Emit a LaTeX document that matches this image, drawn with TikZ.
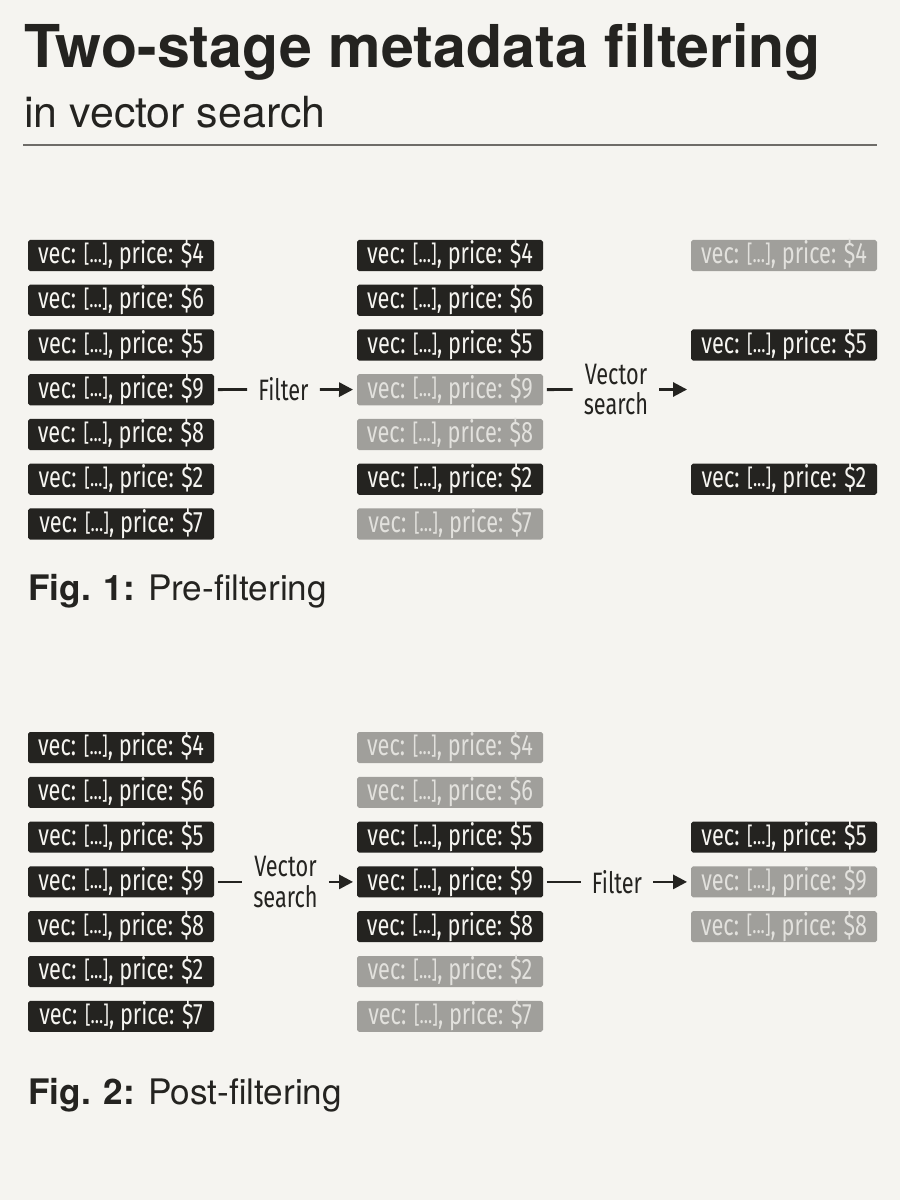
\documentclass[tikz,border=0pt]{standalone}
\usepackage{fontspec}
\setmainfont{TeX Gyre Heros}
\newfontfamily\boxfont[FakeStretch=0.735]{Fira Sans}
\usepackage{xcolor}
\usetikzlibrary{arrows.meta, positioning}
\definecolor{paper}{HTML}{F5F4F0}
\definecolor{ink}{HTML}{242320}
\definecolor{faded}{HTML}{A09F9B}
\definecolor{fadedtext}{HTML}{E2E1DD}
\definecolor{rulegrey}{HTML}{6E6C68}
\newcommand{\elided}{\raisebox{1pt}{\fontsize{17}{17}\selectfont[...]}}
\tikzset{
  box/.style={
    rectangle, rounded corners=1.4pt, anchor=west,
    minimum width=4.65cm, minimum height=0.775cm, inner sep=0pt, outer sep=0pt,
    text height=14pt, text depth=2pt,
    font=\boxfont\fontsize{21}{24}\selectfont
  },
  darkbox/.style={box, fill=ink, text=paper},
  greybox/.style={box, fill=faded, text=fadedtext},
  label/.style={font=\boxfont\fontsize{21}{22}\selectfont, text=ink, align=center,
                inner sep=0pt, outer sep=8pt},
  link/.style={line width=2pt, draw=ink, shorten <=2.8pt},
  arrow/.style={line width=2pt, draw=ink, shorten >=2.8pt, -{Triangle[length=10pt,width=10pt]}},
  caption/.style={anchor=base west, inner sep=0pt, text=ink, font=\fontsize{25}{25}\selectfont},
}

\begin{document}
\begin{tikzpicture}[x=0.025cm, y=-0.025cm]
  \fill[paper] (0,0) rectangle (900,1200);

  % heading
  \node[anchor=base west, inner sep=0pt, text=ink, font=\fontsize{42}{42}\selectfont\bfseries]
    (title) at (24,68) {Two-stage metadata filtering};
  \node[anchor=base west, inner sep=0pt, text=ink, font=\fontsize{30.5}{30.5}\selectfont]
    (subtitle) at (24,128) {in vector search};
  \draw[rulegrey, line width=0.8pt] (23,145) -- (877,145);

  % Fig. 1: pre-filtering
  \foreach \p/\s [count=\i] in {4/darkbox, 6/darkbox, 5/darkbox, 9/darkbox, 8/darkbox, 2/darkbox, 7/darkbox}
    \node[\s] (pa\i) at (28, {255.5+(\i-1)*44.75}) {vec: \elided, price: \$\p};
  \foreach \p/\s [count=\i] in {4/darkbox, 6/darkbox, 5/darkbox, 9/greybox, 8/greybox, 2/darkbox, 7/greybox}
    \node[\s] (pb\i) at (357, {255.5+(\i-1)*44.75}) {vec: \elided, price: \$\p};
  \foreach \p/\s/\i in {4/greybox/1, 5/darkbox/3, 2/darkbox/6}
    \node[\s] (pc\i) at (691, {255.5+(\i-1)*44.75}) {vec: \elided, price: \$\p};

  \node[label] (prefilter) at (283.5,389.5) {Filter};
  \node[label] (presearch) at (616,389.5) {Vector\\search};
  \coordinate (preend) at (691,389.5);
  \draw[link] (pa4) -- (prefilter);
  \draw[arrow] (prefilter) -- (pb4);
  \draw[link] (pb4) -- (presearch);
  \draw[arrow] (presearch) -- (preend);

  \node[caption] (fig1) at (28,600) {\textbf{Fig. 1:} Pre-filtering};

  % Fig. 2: post-filtering
  \foreach \p/\s [count=\i] in {4/darkbox, 6/darkbox, 5/darkbox, 9/darkbox, 8/darkbox, 2/darkbox, 7/darkbox}
    \node[\s] (qa\i) at (28, {747.5+(\i-1)*44.8}) {vec: \elided, price: \$\p};
  \foreach \p/\s [count=\i] in {4/greybox, 6/greybox, 5/darkbox, 9/darkbox, 8/darkbox, 2/greybox, 7/greybox}
    \node[\s] (qb\i) at (357, {747.5+(\i-1)*44.8}) {vec: \elided, price: \$\p};
  \foreach \p/\s/\i in {5/darkbox/3, 9/greybox/4, 8/greybox/5}
    \node[\s] (qc\i) at (691, {747.5+(\i-1)*44.8}) {vec: \elided, price: \$\p};

  \node[label] (postsearch) at (285.5,881.9) {Vector\\search};
  \node[label] (postfilter) at (617,881.9) {Filter};
  \draw[link] (qa4) -- (postsearch);
  \draw[arrow] (postsearch) -- (qb4);
  \draw[link] (qb4) -- (postfilter);
  \draw[arrow] (postfilter) -- (qc4);

  \node[caption] (fig2) at (28,1104) {\textbf{Fig. 2:} Post-filtering};
\end{tikzpicture}
\end{document}
